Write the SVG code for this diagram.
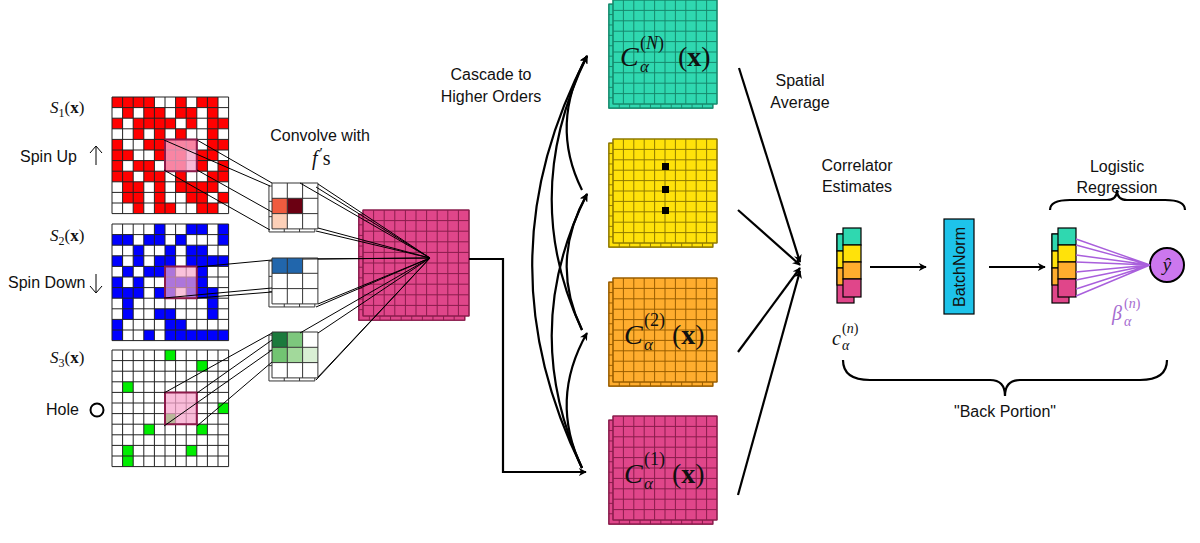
<svg xmlns="http://www.w3.org/2000/svg" xmlns:xlink="http://www.w3.org/1999/xlink" width="1200" height="543" viewBox="0 0 1200 543">
<style>
.t{font-family:"Liberation Sans",Arial,sans-serif;font-size:16px;fill:#111}
.m{font-family:"Liberation Serif","Times New Roman",serif;font-style:italic;fill:#111}
.b{font-style:normal;font-weight:bold}
.n{font-style:normal}
.gl{fill:none;vector-effect:non-scaling-stroke;stroke-width:1}
.sr{vector-effect:non-scaling-stroke;stroke-width:1.2}
.cl{fill:none;stroke:#000;stroke-width:2.2}
.thin{stroke:#000;stroke-width:1;fill:none}
</style>
<defs>
<path id="g11" d="M0 0V11M1 0V11M2 0V11M3 0V11M4 0V11M5 0V11M6 0V11M7 0V11M8 0V11M9 0V11M10 0V11M11 0V11M0 0H11M0 1H11M0 2H11M0 3H11M0 4H11M0 5H11M0 6H11M0 7H11M0 8H11M0 9H11M0 10H11M0 11H11" class="gl" stroke="#222"/>
<g id="g10"><path d="M0 0V10M1 0V10M2 0V10M3 0V10M4 0V10M5 0V10M6 0V10M7 0V10M8 0V10M9 0V10M10 0V10M0 0H10M0 1H10M0 2H10M0 3H10M0 4H10M0 5H10M0 6H10M0 7H10M0 8H10M0 9H10M0 10H10" class="gl"/></g>
<g id="stk"><rect class="sr" x="-0.4" y="0.4" width="10" height="10"/><use xlink:href="#g10" transform="translate(-0.4,0.4)"/><rect class="sr" x="0" y="0" width="10" height="10"/><use xlink:href="#g10"/></g>
<g id="g3"><path d="M0 0V3M1 0V3M2 0V3M3 0V3M0 0H3M0 1H3M0 2H3M0 3H3" class="gl" stroke="#333"/></g>
<marker id="ah" viewBox="0 0 10 10" refX="9" refY="5" markerWidth="8" markerHeight="8" orient="auto" markerUnits="userSpaceOnUse"><path d="M0 0L10 5L0 10L3 5z" fill="#000"/></marker>
</defs>

<g id="labels-left">
<text class="m" x="50" y="113" font-size="17">S<tspan class="n" font-size="12" dy="4">1</tspan><tspan class="n" dy="-4">(</tspan><tspan class="b">x</tspan><tspan class="n">)</tspan></text>
<text class="t" x="20" y="162">Spin Up</text>
<path d="M96 165V147M90 153L96 146L102 153" class="thin" stroke-width="2"/>
<text class="m" x="50" y="241" font-size="17">S<tspan class="n" font-size="12" dy="4">2</tspan><tspan class="n" dy="-4">(</tspan><tspan class="b">x</tspan><tspan class="n">)</tspan></text>
<text class="t" x="8" y="288">Spin Down</text>
<path d="M96 274V292M90 286L96 293L102 286" class="thin" stroke-width="2"/>
<text class="m" x="50" y="363" font-size="17">S<tspan class="n" font-size="12" dy="4">3</tspan><tspan class="n" dy="-4">(</tspan><tspan class="b">x</tspan><tspan class="n">)</tspan></text>
<text class="t" x="46" y="415">Hole</text>
<circle cx="97" cy="410" r="6.5" fill="none" stroke="#000" stroke-width="2"/>
<text class="t" x="320" y="141" text-anchor="middle">Convolve with</text>
<text class="m" x="312" y="165" font-size="20">f<tspan class="n" font-size="15" dx="2" dy="-7">′</tspan><tspan class="n" dy="7">s</tspan></text>
</g>

<g id="grid-S1" transform="translate(112,97) scale(10.6)">
<rect width="11" height="11" fill="#fff"/>
<path fill="#f00" d="M0 0h4v1h-4zM6 0h1v1h-1zM8 0h2v1h-2zM1 1h1v1h-1zM3 1h2v1h-2zM6 1h2v1h-2zM9 1h1v1h-1zM0 2h1v1h-1zM2 2h4v1h-4zM7 2h1v1h-1zM9 2h2v1h-2zM2 3h1v1h-1zM4 3h1v1h-1zM6 3h1v1h-1zM9 3h1v1h-1zM0 4h1v1h-1zM3 4h5v1h-5zM9 4h2v1h-2zM0 5h2v1h-2zM4 5h3v1h-3zM8 5h2v1h-2zM0 6h1v1h-1zM2 6h2v1h-2zM5 6h2v1h-2zM8 6h1v1h-1zM10 6h1v1h-1zM0 7h2v1h-2zM3 7h2v1h-2zM6 7h1v1h-1zM9 7h2v1h-2zM1 8h2v1h-2zM4 8h1v1h-1zM6 8h4v1h-4zM1 9h2v1h-2zM4 9h1v1h-1zM7 9h2v1h-2zM10 9h1v1h-1zM2 10h1v1h-1zM4 10h2v1h-2zM8 10h2v1h-2z"/>
<use xlink:href="#g11"/>
<rect x="5" y="4" width="3" height="3" fill="#f7a6cc" fill-opacity="0.8" stroke="#8b1a4a" stroke-width="2" vector-effect="non-scaling-stroke"/>
</g>
<g id="grid-S2" transform="translate(112,224) scale(10.6)">
<rect width="11" height="11" fill="#fff"/>
<path fill="#00f" d="M4 0h1v1h-1zM7 0h2v1h-2zM10 0h1v1h-1zM0 1h2v1h-2zM3 1h2v1h-2zM6 1h1v1h-1zM10 1h1v1h-1zM2 2h1v1h-1zM5 2h1v1h-1zM7 2h2v1h-2zM0 3h1v1h-1zM2 3h1v1h-1zM4 3h2v1h-2zM7 3h4v1h-4zM1 4h1v1h-1zM3 4h3v1h-3zM8 4h1v1h-1zM0 5h1v1h-1zM2 5h1v1h-1zM5 5h4v1h-4zM0 6h3v1h-3zM4 6h2v1h-2zM7 6h3v1h-3zM1 7h1v1h-1zM9 7h1v1h-1zM1 8h1v1h-1zM4 8h2v1h-2zM9 8h1v1h-1zM0 9h1v1h-1zM5 9h2v1h-2zM0 10h1v1h-1zM3 10h1v1h-1zM5 10h6v1h-6z"/>
<use xlink:href="#g11"/>
<rect x="5" y="4" width="3" height="3" fill="#f7a6cc" fill-opacity="0.7" stroke="#8b1a4a" stroke-width="2" vector-effect="non-scaling-stroke"/>
</g>
<g id="grid-S3" transform="translate(112,350) scale(10.6)">
<rect width="11" height="11" fill="#fff"/>
<path fill="#0e0" d="M5 0h1v1h-1zM8 1h1v1h-1zM1 3h1v1h-1zM10 5h1v1h-1zM5 6h1v1h-1zM3 7h1v1h-1zM8 7h1v1h-1zM1 9h1v1h-1zM7 9h1v1h-1zM1 10h1v1h-1z"/>
<use xlink:href="#g11"/>
<rect x="5" y="4" width="3" height="3" fill="#f7a6cc" fill-opacity="0.75" stroke="#8b1a4a" stroke-width="2" vector-effect="non-scaling-stroke"/>
</g>

<g id="filter-1" transform="translate(272,183) scale(15.3)">
<rect x="-0.2" y="0.2" width="3" height="3" fill="#fff"/><use xlink:href="#g3" transform="translate(-0.2,0.2)"/>
<rect width="3" height="3" fill="#fff"/>
<rect y="1" width="1" height="1" fill="#ef5b3f"/><rect x="1" y="1" width="1" height="1" fill="#6b0012"/><rect y="2" width="1" height="1" fill="#fdd0b8"/>
<use xlink:href="#g3"/>
</g>
<g id="filter-2" transform="translate(272,258) scale(15.3)">
<rect x="-0.2" y="0.2" width="3" height="3" fill="#fff"/><use xlink:href="#g3" transform="translate(-0.2,0.2)"/>
<rect width="3" height="3" fill="#fff"/>
<rect width="2" height="1" fill="#2166ac"/>
<use xlink:href="#g3"/>
</g>
<g id="filter-3" transform="translate(272,332) scale(15.3)">
<rect x="-0.2" y="0.2" width="3" height="3" fill="#fff"/><use xlink:href="#g3" transform="translate(-0.2,0.2)"/>
<rect width="3" height="3" fill="#fff"/>
<rect width="1" height="1" fill="#1b7a3c"/><rect x="1" width="1" height="1" fill="#7dc77d"/><rect y="1" width="1" height="1" fill="#72c472"/><rect x="1" y="1" width="1" height="1" fill="#a2d99b"/><rect x="2" y="1" width="1" height="1" fill="#d9efd4"/>
<use xlink:href="#g3"/>
</g>

<g id="conv-out" transform="translate(363,210) scale(10.6)">
<use xlink:href="#stk" fill="#e0468a" stroke="#8a1d4c"/>
</g>

<g id="map-N" transform="translate(613,0) scale(10.4)"><use xlink:href="#stk" fill="#2fd8b0" stroke="#17896d"/></g>
<g id="map-dots" transform="translate(613,139) scale(10.4)"><use xlink:href="#stk" fill="#ffe20a" stroke="#8f7a00"/></g>
<g id="map-2" transform="translate(613,278) scale(10.4)"><use xlink:href="#stk" fill="#ffad2e" stroke="#9a5e00"/></g>
<g id="map-1" transform="translate(613,416) scale(10.4)"><use xlink:href="#stk" fill="#e0468a" stroke="#8a1d4c"/></g>
<g id="map-labels">
<rect x="662" y="163" width="7" height="7" fill="#000"/><rect x="662" y="186" width="7" height="7" fill="#000"/><rect x="662" y="207" width="7" height="7" fill="#000"/>
<text class="m" x="620" y="66" font-size="28">C<tspan font-size="17" x="640" y="72">α</tspan><tspan class="n" font-size="18" x="640" y="49">(</tspan><tspan font-size="18">N</tspan><tspan class="n" font-size="18">)</tspan><tspan class="n" x="678" y="66">(</tspan><tspan class="b">x</tspan><tspan class="n">)</tspan></text>
<text class="m" x="624" y="344" font-size="28">C<tspan font-size="17" x="644" y="350">α</tspan><tspan class="n" font-size="18" x="644" y="326">(2)</tspan><tspan class="n" x="672" y="344">(</tspan><tspan class="b">x</tspan><tspan class="n">)</tspan></text>
<text class="m" x="624" y="483" font-size="28">C<tspan font-size="17" x="644" y="489">α</tspan><tspan class="n" font-size="18" x="644" y="465">(1)</tspan><tspan class="n" x="672" y="483">(</tspan><tspan class="b">x</tspan><tspan class="n">)</tspan></text>
<text class="t" x="491" y="80" text-anchor="middle">Cascade to</text>
<text class="t" x="491" y="102" text-anchor="middle">Higher Orders</text>
<text class="t" x="800" y="86" text-anchor="middle">Spatial</text>
<text class="t" x="800" y="108" text-anchor="middle">Average</text>
</g>

<g id="back-portion">
<text class="t" x="857" y="171" text-anchor="middle" font-size="15">Correlator</text>
<text class="t" x="857" y="192" text-anchor="middle" font-size="15">Estimates</text>
<g stroke="#000" stroke-width="1.2">
<rect x="837" y="234" width="17" height="69" fill="#e0468a"/>
<rect x="837" y="234" width="17" height="17" fill="#2fd8b0"/><rect x="837" y="251" width="17" height="17" fill="#ffe20a"/><rect x="837" y="268" width="17" height="17" fill="#ffad2e"/>
<rect x="843" y="228" width="18" height="17" fill="#2fd8b0"/><rect x="843" y="245" width="18" height="17" fill="#ffe20a"/><rect x="843" y="262" width="18" height="17" fill="#ffad2e"/><rect x="843" y="279" width="18" height="18" fill="#e0468a"/>
</g>
<text class="m" x="832" y="345" font-size="20">c<tspan font-size="14" x="842" y="350">α</tspan><tspan class="n" font-size="14" x="842" y="333">(</tspan><tspan font-size="14">n</tspan><tspan class="n" font-size="14">)</tspan></text>
<rect x="944" y="219" width="30" height="95" fill="#1ec3ea" stroke="#000" stroke-width="1.2"/>
<text class="t" transform="translate(965,267) rotate(-90)" text-anchor="middle" font-size="15">BatchNorm</text>
<g stroke="#000" stroke-width="1.2">
<rect x="1052" y="234" width="17" height="69" fill="#e0468a"/>
<rect x="1052" y="234" width="17" height="17" fill="#2fd8b0"/><rect x="1052" y="251" width="17" height="17" fill="#ffe20a"/><rect x="1052" y="268" width="17" height="17" fill="#ffad2e"/>
<rect x="1058" y="228" width="18" height="17" fill="#2fd8b0"/><rect x="1058" y="245" width="18" height="17" fill="#ffe20a"/><rect x="1058" y="262" width="18" height="17" fill="#ffad2e"/><rect x="1058" y="279" width="18" height="18" fill="#e0468a"/>
</g>
<text class="t" x="1117" y="172" text-anchor="middle" font-size="15">Logistic</text>
<text class="t" x="1117" y="193" text-anchor="middle" font-size="15">Regression</text>
<circle cx="1167" cy="265" r="17" fill="#cc77ee" stroke="#000" stroke-width="2"/>
<text class="m" x="1167" y="271" font-size="19" text-anchor="middle">ŷ</text>
<text class="m" x="1112" y="320" font-size="20" style="fill:#a66cd0">β<tspan font-size="14" x="1124" y="326">α</tspan><tspan class="n" font-size="14" x="1124" y="308">(</tspan><tspan font-size="14">n</tspan><tspan class="n" font-size="14">)</tspan></text>
<text class="t" x="1005" y="417" text-anchor="middle">"Back Portion"</text>
</g>

<g id="connectors">
<g class="thin">
<path d="M164 140L270 186M197 140L272 183M164 170L270 230M197 170L272 212"/>
<path d="M197 267L272 260M197 298L272 292M164 298L272 288"/>
<path d="M164 393L272 333M197 393L272 340M164 426L272 350M197 426L272 362"/>
<path d="M318 184L430 258M318 228L430 258M316 187L430 258M316 231L430 258M300 183L430 258"/>
<path d="M318 259L430 258M318 304L430 258M316 307L430 258M303 259L430 258"/>
<path d="M318 333L430 258M318 377L430 258M316 380L430 258M300 333L430 258"/>
</g>
<path d="M469 259H503V472H586" class="cl" marker-end="url(#ah)"/>
<path d="M582 468Q549 400 587 333" class="cl" marker-end="url(#ah)"/>
<path d="M582 468Q519 330 587 194" class="cl" marker-end="url(#ah)"/>
<path d="M582 468Q480 260 587 56" class="cl" marker-end="url(#ah)"/>
<path d="M582 330Q549 262 587 194" class="cl" marker-end="url(#ah)"/>
<path d="M582 330Q519 195 587 56" class="cl" marker-end="url(#ah)"/>
<path d="M582 190Q549 124 587 56" class="cl" marker-end="url(#ah)"/>
<path d="M739 68L800 262" class="cl" marker-end="url(#ah)"/>
<path d="M738 210L800 265" class="cl" marker-end="url(#ah)"/>
<path d="M738 352L800 268" class="cl" marker-end="url(#ah)"/>
<path d="M738 495L800 271" class="cl" marker-end="url(#ah)"/>
<path d="M870 267H926" class="cl" marker-end="url(#ah)"/>
<path d="M989 267H1045" class="cl" marker-end="url(#ah)"/>
<g stroke="#a95fdc" stroke-width="1.4">
<path d="M1076 239L1150 265M1076 245L1150 265M1076 255L1150 265M1076 262L1150 265M1076 272L1150 265M1076 280L1150 265M1076 289L1150 265M1076 296L1150 265"/>
</g>
<path d="M1050 210Q1050 200 1070 200H1107Q1117 200 1117 190Q1117 200 1127 200H1165Q1185 200 1185 210" class="cl" stroke-width="1.8"/>
<path d="M843 360Q843 380 870 380H990Q1005 380 1005 396Q1005 380 1020 380H1140Q1167 380 1167 360" class="cl" stroke-width="1.8"/>
</g>
</svg>
